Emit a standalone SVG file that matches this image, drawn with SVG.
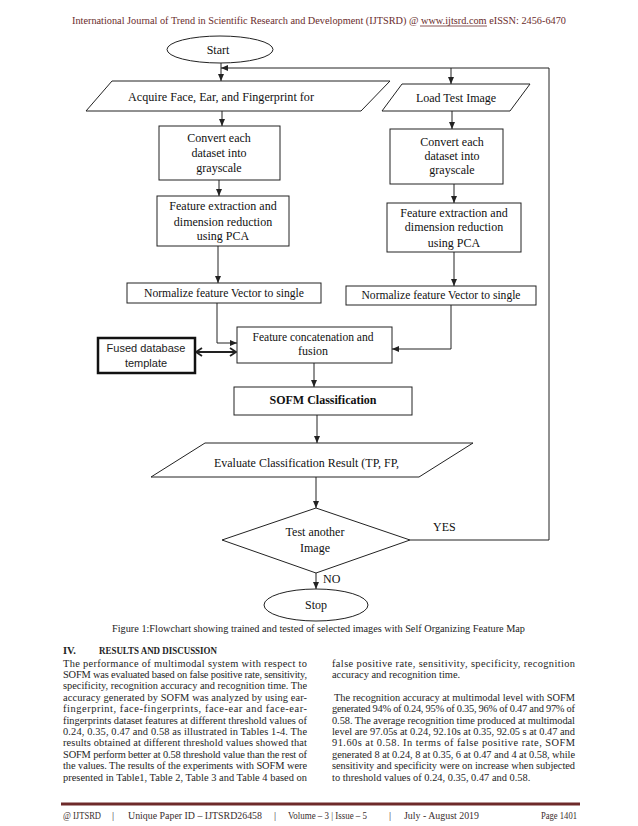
<svg xmlns="http://www.w3.org/2000/svg" width="638" height="826" viewBox="0 0 638 826">
<style>
.bx{fill:#fff;stroke:#222;stroke-width:1}
.ln{fill:none;stroke:#222;stroke-width:1}
.ft{font-family:"Liberation Serif","Times New Roman",serif;font-size:12px;fill:#111}
.ftc{font-family:"Liberation Serif","Times New Roman",serif;font-size:12px;fill:#111;text-anchor:middle}
.body{font-family:"Liberation Serif","Times New Roman",serif;font-size:10.4px;fill:#1e1e1e}
.hd{font-family:"Liberation Serif","Times New Roman",serif;font-size:11px;fill:#6a2c2c}
.foot{font-family:"Liberation Serif","Times New Roman",serif;font-size:10.5px;fill:#3a2e2e}
</style>
<defs>
<marker id="ah" markerWidth="8" markerHeight="8" refX="7" refY="4" orient="auto" markerUnits="userSpaceOnUse">
<path d="M0,1 L7,4 L0,7 Z" fill="#222"/>
</marker>
<marker id="oa" markerWidth="10" markerHeight="10" refX="8" refY="5" orient="auto" markerUnits="userSpaceOnUse">
<path d="M2,1 L8,5 L2,9" fill="none" stroke="#222" stroke-width="1.8"/>
</marker>
<marker id="oas" markerWidth="10" markerHeight="10" refX="8" refY="5" orient="auto-start-reverse" markerUnits="userSpaceOnUse">
<path d="M2,1 L8,5 L2,9" fill="none" stroke="#222" stroke-width="1.8"/>
</marker>
</defs>
<rect width="638" height="826" fill="#fff"/>

<!-- page header -->
<g id="header">
<text class="hd" x="72" y="24" textLength="494" lengthAdjust="spacingAndGlyphs">International Journal of Trend in Scientific Research and Development (IJTSRD) @ www.ijtsrd.com eISSN: 2456-6470</text>
<line x1="420" y1="26" x2="487" y2="26" stroke="#6a2c2c" stroke-width="0.8"/>
</g>

<!-- connectors -->
<g id="connectors">
<line class="ln" x1="221" y1="63" x2="221" y2="81" marker-end="url(#ah)"/>
<polyline class="ln" points="410,540 549,540 549,68 221,68" marker-end="url(#ah)"/>
<line class="ln" x1="451" y1="68" x2="451" y2="84" marker-end="url(#ah)"/>
<line class="ln" x1="222" y1="111" x2="222" y2="126" marker-end="url(#ah)"/>
<line class="ln" x1="219" y1="180" x2="219" y2="196" marker-end="url(#ah)"/>
<line class="ln" x1="218" y1="246" x2="218" y2="283" marker-end="url(#ah)"/>
<polyline class="ln" points="217,303 217,343 237,343" marker-end="url(#ah)"/>
<line class="ln" x1="452" y1="111" x2="452" y2="129" marker-end="url(#ah)"/>
<line class="ln" x1="454" y1="184" x2="454" y2="203" marker-end="url(#ah)"/>
<line class="ln" x1="454" y1="252" x2="454" y2="286" marker-end="url(#ah)"/>
<polyline class="ln" points="451,305 451,349 392,349" marker-end="url(#ah)"/>
<line x1="196" y1="352" x2="236" y2="352" stroke="#222" stroke-width="1.8" marker-start="url(#oas)" marker-end="url(#oa)"/>
<line class="ln" x1="314" y1="363" x2="314" y2="387" marker-end="url(#ah)"/>
<line class="ln" x1="317" y1="415" x2="317" y2="443" marker-end="url(#ah)"/>
<line class="ln" x1="316" y1="477" x2="316" y2="508" marker-end="url(#ah)"/>
<line class="ln" x1="316" y1="573" x2="316" y2="589" marker-end="url(#ah)"/>
<text class="ft" x="433" y="531">YES</text>
<text class="ft" x="323" y="583">NO</text>
</g>

<g id="start">
<ellipse class="bx" cx="220" cy="49.5" rx="53" ry="13.5"/>
<text class="ftc" x="218" y="54" font-size="11.5">Start</text>
</g>

<g id="acquire">
<polygon class="bx" points="112,81 390,81 361,111 86,111"/>
<text class="ft" x="128" y="101" textLength="186" lengthAdjust="spacingAndGlyphs">Acquire Face, Ear, and Fingerprint for</text>
</g>

<g id="load">
<polygon class="bx" points="402,84 530,84 510,111 382,111"/>
<text class="ftc" x="456" y="102">Load Test Image</text>
</g>

<g id="convert-left">
<rect class="bx" x="159" y="126" width="121" height="54"/>
<text class="ftc" x="219" y="142">Convert each</text>
<text class="ftc" x="219" y="157">dataset into</text>
<text class="ftc" x="219" y="172">grayscale</text>
</g>

<g id="feature-left">
<rect class="bx" x="157" y="196" width="132" height="50"/>
<text class="ftc" x="223" y="210">Feature extraction and</text>
<text class="ftc" x="223" y="226">dimension reduction</text>
<text class="ftc" x="223" y="240">using PCA</text>
</g>

<g id="normalize-left">
<rect class="bx" x="127" y="283" width="194" height="20"/>
<text class="ftc" x="224" y="297" textLength="160" lengthAdjust="spacingAndGlyphs">Normalize feature Vector to single</text>
</g>

<g id="convert-right">
<rect class="bx" x="390" y="129" width="113" height="55"/>
<text class="ftc" x="452" y="146">Convert each</text>
<text class="ftc" x="452" y="160">dataset into</text>
<text class="ftc" x="452" y="174">grayscale</text>
</g>

<g id="feature-right">
<rect class="bx" x="387" y="203" width="134" height="49"/>
<text class="ftc" x="454" y="217">Feature extraction and</text>
<text class="ftc" x="454" y="231">dimension reduction</text>
<text class="ftc" x="454" y="247">using PCA</text>
</g>

<g id="normalize-right">
<rect class="bx" x="346" y="286" width="190" height="19"/>
<text class="ftc" x="441" y="299" textLength="159" lengthAdjust="spacingAndGlyphs">Normalize feature Vector to single</text>
</g>

<g id="concat">
<rect class="bx" x="237" y="327" width="155" height="36"/>
<text class="ftc" x="313" y="341" textLength="121" lengthAdjust="spacingAndGlyphs">Feature concatenation and</text>
<text class="ftc" x="313" y="355">fusion</text>
</g>

<g id="fused-db">
<rect x="98" y="338" width="97" height="35" fill="#fff" stroke="#111" stroke-width="2.5"/>
<text x="146" y="352" text-anchor="middle" font-family="'Liberation Sans',Arial,sans-serif" font-size="11" fill="#222">Fused database</text>
<text x="146" y="367" text-anchor="middle" font-family="'Liberation Sans',Arial,sans-serif" font-size="11" fill="#222">template</text>
</g>

<g id="sofm">
<rect class="bx" x="234" y="387" width="178" height="28"/>
<text class="ftc" x="323" y="404" font-weight="bold">SOFM Classification</text>
</g>

<g id="evaluate">
<polygon class="bx" points="205,443 473,443 419,477 151,477"/>
<text class="ft" x="214" y="467" font-size="13.5" textLength="185" lengthAdjust="spacingAndGlyphs">Evaluate Classification Result (TP, FP,</text>
</g>

<g id="decision">
<polygon class="bx" points="316,508 410,540 316,573 222,540"/>
<text class="ftc" x="315" y="536">Test another</text>
<text class="ftc" x="315" y="552">Image</text>
</g>

<g id="stop">
<ellipse class="bx" cx="316" cy="605" rx="52" ry="16"/>
<text class="ftc" x="316" y="609" font-size="11">Stop</text>
</g>

<!-- caption and body -->
<g id="caption">
<text x="112" y="632" font-family="'Liberation Serif','Times New Roman',serif" font-size="10.5" fill="#222" textLength="413" lengthAdjust="spacingAndGlyphs">Figure 1:Flowchart showing trained and tested of selected images with Self Organizing Feature Map</text>
</g>

<g id="body-text">
<text class="body" x="63" y="653.5" font-weight="bold">IV.</text>
<text class="body" x="99" y="653.5" font-weight="bold" textLength="118" lengthAdjust="spacingAndGlyphs">RESULTS AND DISCUSSION</text>
<text class="body" x="63" y="666.5" textLength="244" lengthAdjust="spacing">The performance of multimodal system with respect to</text>
<text class="body" x="63" y="677.9" textLength="244" lengthAdjust="spacing">SOFM was evaluated based on false positive rate, sensitivity,</text>
<text class="body" x="63" y="689.3" textLength="244" lengthAdjust="spacing">specificity, recognition accuracy and recognition time. The</text>
<text class="body" x="63" y="700.7" textLength="244" lengthAdjust="spacing">accuracy generated by SOFM was analyzed by using ear-</text>
<text class="body" x="63" y="712.1" textLength="244" lengthAdjust="spacing">fingerprint, face-fingerprints, face-ear and face-ear-</text>
<text class="body" x="63" y="723.5" textLength="244" lengthAdjust="spacing">fingerprints dataset features at different threshold values of</text>
<text class="body" x="63" y="734.9" textLength="244" lengthAdjust="spacing">0.24, 0.35, 0.47 and 0.58 as illustrated in Tables 1-4. The</text>
<text class="body" x="63" y="746.3" textLength="244" lengthAdjust="spacing">results obtained at different threshold values showed that</text>
<text class="body" x="63" y="757.7" textLength="244" lengthAdjust="spacing">SOFM perform better at 0.58 threshold value than the rest of</text>
<text class="body" x="63" y="769.1" textLength="244" lengthAdjust="spacing">the values. The results of the experiments with SOFM were</text>
<text class="body" x="63" y="780.5" textLength="244" lengthAdjust="spacing">presented in Table1, Table 2, Table 3 and Table 4 based on</text>

<text class="body" x="332" y="666.5" textLength="243" lengthAdjust="spacing">false positive rate, sensitivity, specificity, recognition</text>
<text class="body" x="332" y="677.9">accuracy and recognition time.</text>
<text class="body" x="334" y="700.7" textLength="241" lengthAdjust="spacing">The recognition accuracy at multimodal level with SOFM</text>
<text class="body" x="332" y="712.1" textLength="243" lengthAdjust="spacing">generated 94% of 0.24, 95% of 0.35, 96% of 0.47 and 97% of</text>
<text class="body" x="332" y="723.5" textLength="243" lengthAdjust="spacing">0.58. The average recognition time produced at multimodal</text>
<text class="body" x="332" y="734.9" textLength="243" lengthAdjust="spacing">level are 97.05s at 0.24, 92.10s at 0.35, 92.05 s at 0.47 and</text>
<text class="body" x="332" y="746.3" textLength="243" lengthAdjust="spacing">91.60s at 0.58. In terms of false positive rate, SOFM</text>
<text class="body" x="332" y="757.7" textLength="243" lengthAdjust="spacing">generated 8 at 0.24, 8 at 0.35, 6 at 0.47 and 4 at 0.58, while</text>
<text class="body" x="332" y="769.1" textLength="243" lengthAdjust="spacing">sensitivity and specificity were on increase when subjected</text>
<text class="body" x="332" y="780.5">to threshold values of 0.24, 0.35, 0.47 and 0.58.</text>
</g>

<!-- footer -->
<g id="footer">
<line x1="61" y1="804" x2="580" y2="804" stroke="#6e2a2a" stroke-width="3"/>
<text class="foot" x="63" y="819" textLength="38" lengthAdjust="spacingAndGlyphs">@ IJTSRD</text>
<text class="foot" x="112" y="819">|</text>
<text class="foot" x="128" y="819" textLength="134" lengthAdjust="spacingAndGlyphs">Unique Paper ID – IJTSRD26458</text>
<text class="foot" x="274" y="819">|</text>
<text class="foot" x="288" y="819" textLength="79" lengthAdjust="spacingAndGlyphs">Volume – 3 | Issue – 5</text>
<text class="foot" x="389" y="819">|</text>
<text class="foot" x="404" y="819" textLength="75" lengthAdjust="spacingAndGlyphs">July - August 2019</text>
<text class="foot" x="541" y="819" font-size="11" textLength="36" lengthAdjust="spacingAndGlyphs">Page 1401</text>
</g>
</svg>
